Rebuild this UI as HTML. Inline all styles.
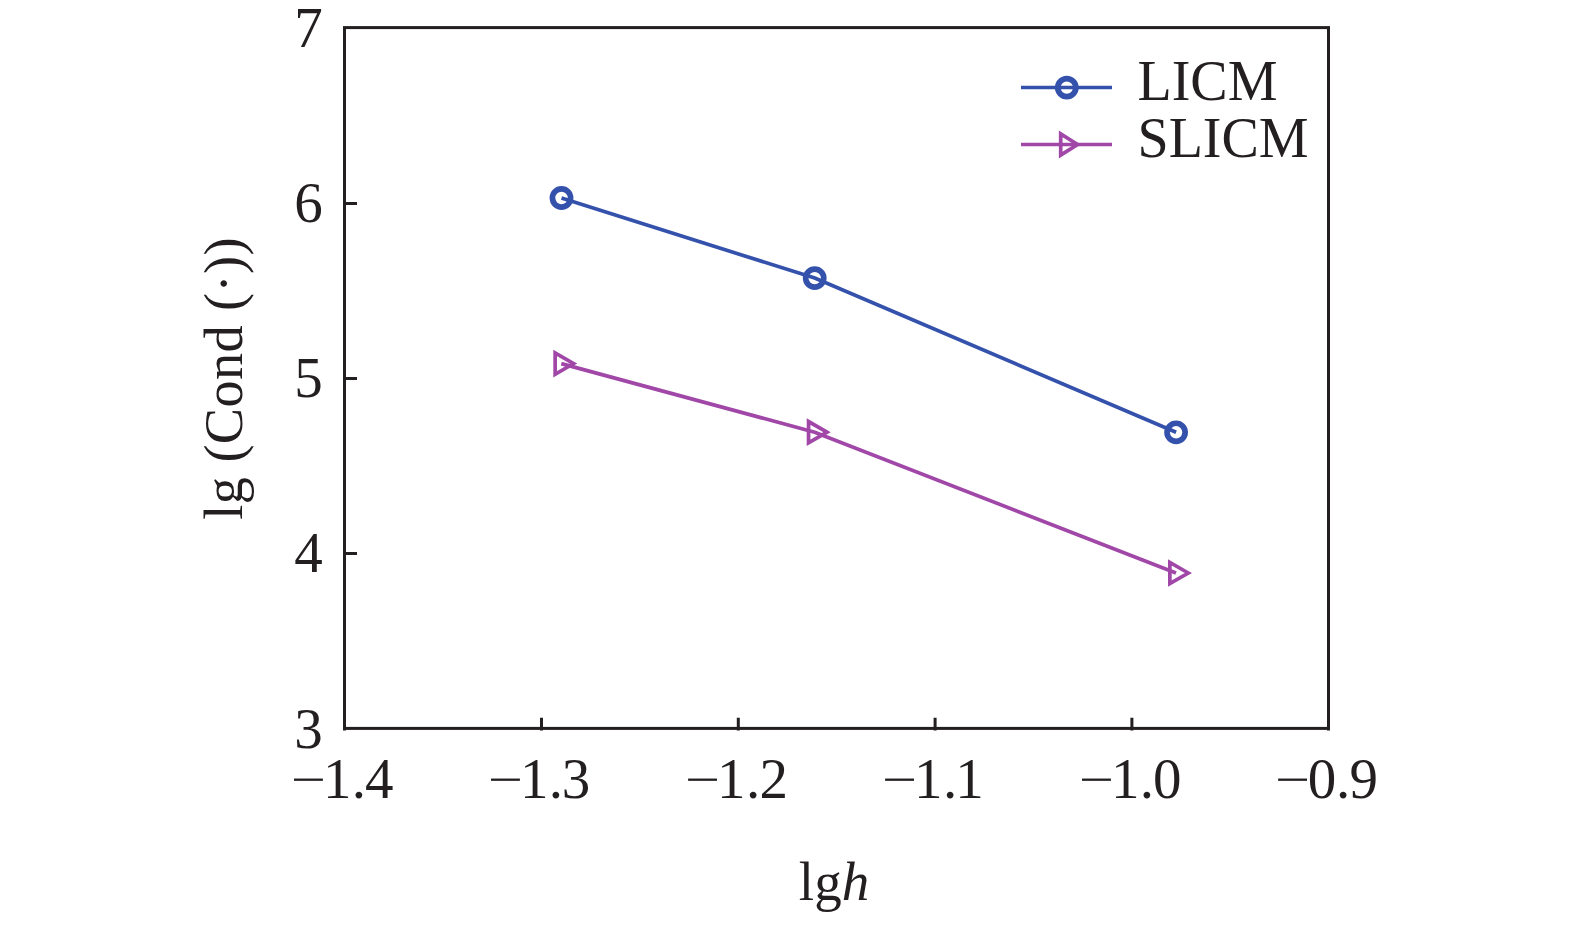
<!DOCTYPE html>
<html>
<head>
<meta charset="utf-8">
<style>
html,body{margin:0;padding:0;background:#fff;width:1575px;height:930px;overflow:hidden;}
svg{display:block;}
text{font-family:"Liberation Serif",serif;fill:#231f20;}
</style>
</head>
<body>
<svg width="1575" height="930" viewBox="0 0 1575 930">
<rect width="1575" height="930" fill="#fff"/>
<!-- axes box -->
<g stroke="#231f20" stroke-width="3" fill="none">
<rect x="344.5" y="27.6" width="984" height="700.8"/>
<!-- y ticks -->
<path d="M344.5 203.5H357M344.5 378.5H357M344.5 553.5H357"/>
<!-- x ticks -->
<path d="M344.5 730.6V717.8M1328.5 730.6V717.8M541.5 730.6V717.8M738.3 730.6V717.8M935.1 730.6V717.8M1131.9 730.6V717.8"/>
</g>
<!-- y tick labels -->
<g font-size="57" text-anchor="end">
<text x="322.7" y="46.8">7</text>
<text x="322.7" y="222">6</text>
<text x="322.7" y="397.2">5</text>
<text x="322.7" y="572.4">4</text>
<text x="322.7" y="747.6">3</text>
</g>
<!-- x tick labels -->
<g fill="#231f20">
<rect x="294" y="778.55" width="28.9" height="2.3"/>
<rect x="491" y="778.55" width="28.9" height="2.3"/>
<rect x="688.1" y="778.55" width="28.9" height="2.3"/>
<rect x="885.1" y="778.55" width="28.9" height="2.3"/>
<rect x="1082" y="778.55" width="28.9" height="2.3"/>
<rect x="1278.1" y="778.55" width="28.9" height="2.3"/>
</g>
<g font-size="57">
<text y="798"><tspan x="322.96">1</tspan><tspan x="351.78">.</tspan><tspan x="364.94">4</tspan></text>
<text y="798"><tspan x="519.96">1</tspan><tspan x="548.78">.</tspan><tspan x="561.80">3</tspan></text>
<text y="798"><tspan x="717.06">1</tspan><tspan x="745.88">.</tspan><tspan x="759.47">2</tspan></text>
<text y="798"><tspan x="914.06">1</tspan><tspan x="942.88">.</tspan><tspan x="955.36">1</tspan></text>
<text y="798"><tspan x="1110.96">1</tspan><tspan x="1139.78">.</tspan><tspan x="1153.05">0</tspan></text>
<text y="798"><tspan x="1307.85">0</tspan><tspan x="1335.88">.</tspan><tspan x="1349.40">9</tspan></text>
</g>
<!-- axis labels -->
<text x="834" y="899.6" font-size="55" text-anchor="middle">lg<tspan font-style="italic">h</tspan></text>
<text transform="translate(242.1 378.3) rotate(-90)" font-size="54.3" letter-spacing="0.4" text-anchor="middle">lg (Cond (&#183;))</text>

<!-- LICM series -->
<g stroke="#3451ac" fill="none">
<polyline stroke-width="3.7" points="561.5,198 814.7,278.1 1176.1,432.3"/>
<circle cx="561.5" cy="198" r="9.05" stroke-width="5.7"/>
<circle cx="814.7" cy="278.1" r="9.05" stroke-width="5.7"/>
<circle cx="1176.1" cy="432.3" r="9.05" stroke-width="5.7"/>
</g>
<!-- SLICM series -->
<g stroke="#a047a8" fill="none" stroke-linejoin="miter">
<polyline stroke-width="3.7" points="561.3,363.6 814.7,432.2 1176,573"/>
<path stroke-width="3.7" d="M573.60 363.6L555.15 352.95V374.25Z"/>
<path stroke-width="3.7" d="M827.00 432.2L808.55 421.55V442.85Z"/>
<path stroke-width="3.7" d="M1188.30 573L1169.85 562.35V583.65Z"/>
</g>

<!-- legend -->
<g fill="none">
<path d="M1021 87.5H1112" stroke="#3451ac" stroke-width="3.3"/>
<circle cx="1066.8" cy="87.6" r="9.05" stroke="#3451ac" stroke-width="5.8"/>
<path d="M1021 144.5H1112" stroke="#a047a8" stroke-width="3.3"/>
<path d="M1077.6 144.5L1060.7 133.9V155.1Z" stroke="#a047a8" stroke-width="3.7"/>
</g>
<g font-size="56">
<text x="1137.5" y="100">LICM</text>
<text x="1137.5" y="157">SLICM</text>
</g>
</svg>
</body>
</html>
